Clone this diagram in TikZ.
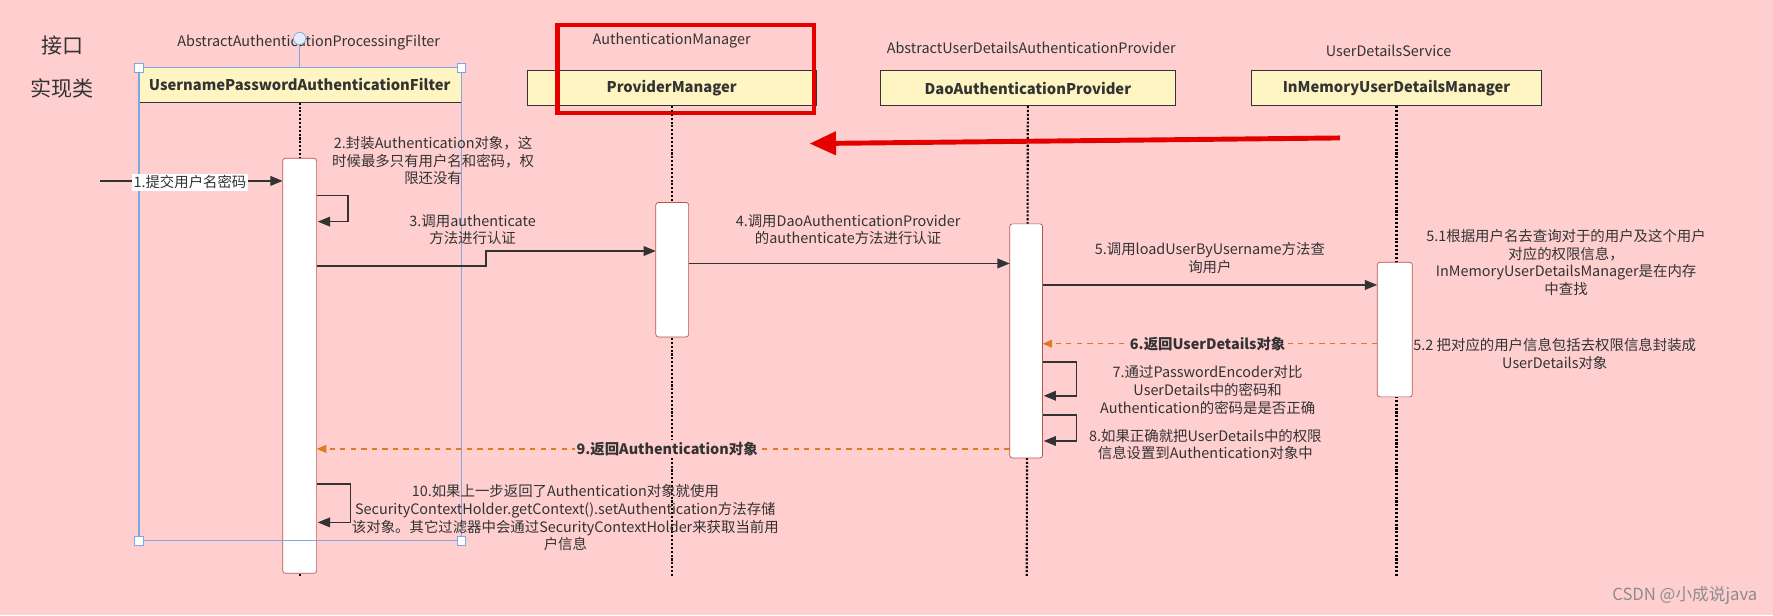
\documentclass[tikz,border=0pt]{standalone}
\usepackage{fontspec}
\setmainfont{Noto Sans CJK SC}
\usetikzlibrary{arrows.meta}
\definecolor{bg}{HTML}{FFCFD0}
\definecolor{hdr}{HTML}{FFF5C2}
\definecolor{txt}{HTML}{333333}
\definecolor{act}{HTML}{B85450}
\definecolor{ret}{HTML}{E07A1F}
\definecolor{sel}{HTML}{7EA6E0}
\tikzset{
 px/.style={x=0.02262cm,y=-0.02262cm},
 hdrbox/.style={draw=black!80,fill=hdr,minimum height=0.7cm,font=\fontsize{8.4}{10}\selectfont\bfseries,text=txt,inner sep=0},
 lbl/.style={font=\fontsize{8.2}{10}\selectfont,text=txt,align=center,inner sep=1pt},
 actbox/.style={draw=act,fill=white,rounded corners=1.5pt},
 life/.style={densely dotted,line width=1.2pt,black},
 msg/.style={-{Triangle[length=7pt,width=5.5pt]},line width=0.9pt,black!80},
 retm/.style={-{Triangle[length=5.5pt,width=4.5pt]},dashed,ret,line width=0.7pt},
 handle/.style={draw=sel,fill=white,minimum size=5pt,inner sep=0}
}
\begin{document}
\begin{tikzpicture}[px]
\fill[bg] (0,0) rectangle (1568,544);
\useasboundingbox (0,0) rectangle (1568,544);
\node[font=\fontsize{12}{14}\selectfont,text=txt] (jk) at (55,40) {接口};
\node[font=\fontsize{12}{14}\selectfont,text=txt] (sx) at (55,78) {实现类};
% headers
\node[hdrbox,minimum width=6.45cm] (h1) at (265,75) {UsernamePasswordAuthenticationFilter};
\node[hdrbox,minimum width=5.79cm] (h2) at (594,78) {ProviderManager};
\node[hdrbox,minimum width=5.88cm] (h3) at (909,78) {DaoAuthenticationProvider};
\node[hdrbox,minimum width=5.81cm] (h4) at (1235,78) {InMemoryUserDetailsManager};
\node[lbl] (t1) at (273,38) {AbstractAuthenticationProcessingFilter};
\node[lbl] (t2) at (594,36) {AuthenticationManager};
\node[lbl] (t3) at (912,42) {AbstractUserDetailsAuthenticationProvider};
\node[lbl] (t4) at (1228,45) {UserDetailsService};
\draw[red!90!black,line width=2.5pt] (493,22) rectangle (720,100);
% lifelines
\coordinate (e1) at (265,510); \coordinate (e2) at (594,510);
\coordinate (e3) at (908,510); \coordinate (e4) at (1235,510);
\draw[life] (h1.south) -- (e1);
\draw[life] (h2.south) -- (e2);
\draw[life] (h3.south) -- (e3);
\draw[life] (h4.south) -- (e4);
% activations
\draw[actbox] (250,140) rectangle (280,507);
\draw[actbox] (580,179) rectangle (609,298);
\draw[actbox] (893,198) rectangle (922,405);
\draw[actbox] (1218,232) rectangle (1249,351);
% selection
\draw[sel,line width=0.7pt] (123,60) rectangle (408,478);
\draw[sel,line width=0.9pt] (265,60) -- (265,35);
\node[draw=sel,fill=white!80!sel,circle,minimum size=7pt,inner sep=0] (hc) at (265,34) {};
\foreach \p in {(123,60),(408,60),(123,478),(408,478)} \node[handle] at \p {};
% red arrow
\coordinate (ra) at (1185,122); \coordinate (rb) at (716,127);
\draw[red!90!black,line width=2.8pt,-{Triangle[length=15pt,width=13pt]}] (ra) -- (rb);
% messages
\coordinate (m1s) at (88,160);
\draw[msg] (m1s) -- (250,160);
\node[lbl,fill=white] (l1) at (168,161) {1.提交用户名密码};
\draw[msg] (280,173) -- (308,173) -- (308,196) -- (281,196);
\node[lbl] (l2) at (383,142) {2.封装Authentication对象，这\\时候最多只有用户名和密码，权\\限还没有};
\draw[msg] (280,235) -- (430,235) -- (430,222) -- (580,222);
\node[lbl] (l3) at (418,203) {3.调用authenticate\\方法进行认证};
\draw[msg] (609,233) -- (893,233);
\node[lbl] (l4) at (750,203) {4.调用DaoAuthenticationProvider\\的authenticate方法进行认证};
\draw[msg] (922,252) -- (1218,252);
\node[lbl] (l5) at (1070,228) {5.调用loadUserByUsername方法查\\询用户};
\node[lbl] (l51) at (1385,232) {5.1根据用户名去查询对于的用户及这个用户\\对应的权限信息，\\InMemoryUserDetailsManager是在内存\\中查找};
\draw[retm] (1218,304) -- (922,304);
\node[lbl,fill=bg,font=\fontsize{8.2}{10}\selectfont\bfseries] (l6) at (1068,304) {6.返回UserDetails对象};
\node[lbl] (l52) at (1375,313) {5.2 把对应的用户信息包括去权限信息封装成\\UserDetails对象};
\draw[msg] (922,320) -- (952,320) -- (952,350) -- (923,350);
\node[lbl] (l7) at (1068,345) {7.通过PasswordEncoder对比\\UserDetails中的密码和\\Authentication的密码是是否正确};
\draw[msg] (922,367) -- (952,367) -- (952,390) -- (923,390);
\node[lbl] (l8) at (1066,393) {8.如果正确就把UserDetails中的权限\\信息设置到Authentication对象中};
\draw[retm] (893,397) -- (280,397);
\node[lbl,fill=bg,font=\fontsize{8.2}{10}\selectfont\bfseries] (l9) at (590,397) {9.返回Authentication对象};
\draw[msg] (280,428) -- (310,428) -- (310,462) -- (281,462);
\node[lbl] (l10) at (500,458) {10.如果上一步返回了Authentication对象就使用\\SecurityContextHolder.getContext().setAuthentication方法存储\\该对象。其它过滤器中会通过SecurityContextHolder来获取当前用\\户信息};
\node[font=\fontsize{9.5}{11}\selectfont,text=black!45] (wm) at (1490,527) {CSDN @小成说java};
\end{tikzpicture}
\end{document}
